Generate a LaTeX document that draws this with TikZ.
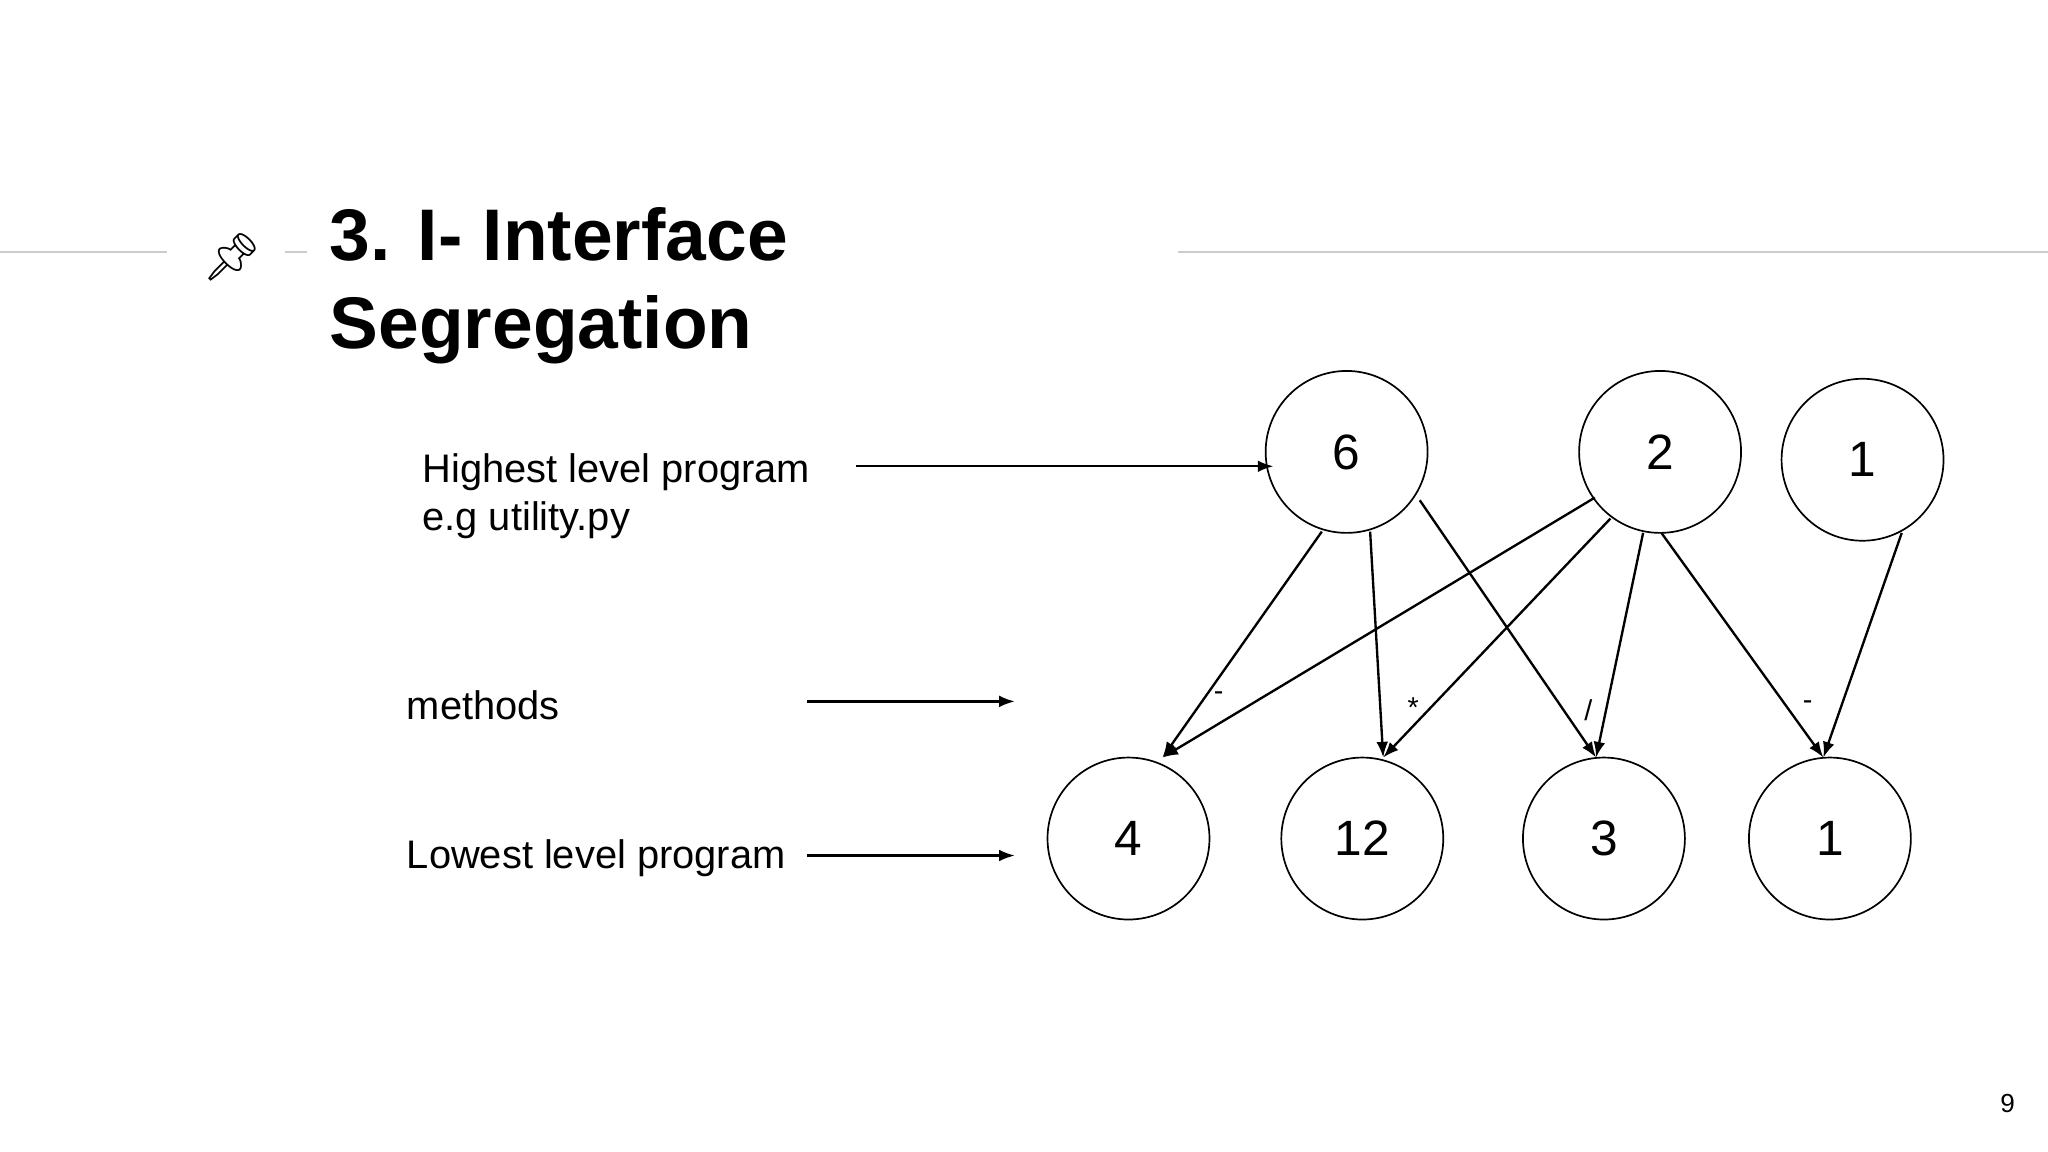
\documentclass[tikz,border=0pt]{standalone}
\usepackage{fontspec}
\setmainfont{Liberation Sans}
\newfontfamily\emojifont{Noto Emoji}
\usetikzlibrary{arrows.meta}
\begin{document}
\begin{tikzpicture}[x=1pt,y=-1pt,
  circ/.style={draw,circle,minimum size=124pt,line width=1.3pt,font=\fontsize{38}{40}\selectfont,text depth=-6pt},
  arr/.style={line width=1.8pt,-{Latex[length=12pt,width=9pt]}},
  lbl/.style={font=\fontsize{30.5}{37}\selectfont,anchor=west,align=left},
  op/.style={font=\fontsize{22}{24}\selectfont}]
\useasboundingbox (0,0) rectangle (1568,882);
\fill[white] (0,0) rectangle (1568,882);
\draw[gray!40,line width=1pt] (0,193) -- (128,193) (218,193) -- (235,193) (902,193) -- (1568,193);
\node (pin) at (178,197) {\emojifont\fontsize{36}{36}\selectfont 📌};
\node[anchor=north west,align=left,font=\bfseries\fontsize{56}{68}\selectfont] (title) at (249,155) {3. I- Interface\\Segregation};
\node[circ] (t6) at (1031,346) {6};
\node[circ] (t2) at (1271,346) {2};
\node[circ] (t1) at (1426,352) {1};
\node[circ] (b4) at (864,642) {4};
\node[circ] (b12) at (1043,642) {12};
\node[circ] (b3) at (1228,642) {3};
\node[circ] (b1) at (1401,642) {1};
\node[lbl] (high) at (320,380) {Highest level program\\e.g utility.py};
\node[lbl] (meth) at (308,540) {methods};
\node[lbl] (low) at (308,657) {Lowest level program};
\coordinate (h1) at (655,357); \coordinate (h2) at (975,357);
\coordinate (m1) at (618,537); \coordinate (m2) at (777,537);
\coordinate (l1) at (618,655); \coordinate (l2) at (777,655);
\draw[arr] (h1) -- (h2);
\draw[arr] (m1) -- (m2);
\draw[arr] (l1) -- (l2);
\coordinate (s61) at (1012,407); \coordinate (s62) at (1049,407); \coordinate (s63) at (1087,383);
\coordinate (s21) at (1221,381); \coordinate (s22) at (1233,397); \coordinate (s23) at (1258,408); \coordinate (s24) at (1272,408);
\coordinate (s11) at (1456,408);
\coordinate (e4) at (890,580); \coordinate (e12) at (1059,580); \coordinate (e3) at (1222,580); \coordinate (e1) at (1396,580);
\draw[arr] (s61) -- (e4);
\draw[arr] (s62) -- (e12);
\draw[arr] (s63) -- (e3);
\draw[arr] (s21) -- (e4);
\draw[arr] (s22) -- (e12);
\draw[arr] (s23) -- (e3);
\draw[arr] (s24) -- (e1);
\draw[arr] (s11) -- (e1);
\node[op] (o1) at (933,533) {-};
\node[op] (o2) at (1082,542) {*};
\node[op] (o3) at (1216,544) {/};
\node[op] (o4) at (1384,540) {-};
\node[font=\fontsize{20}{24}\selectfont] (pg) at (1537,845) {9};
\end{tikzpicture}
\end{document}
